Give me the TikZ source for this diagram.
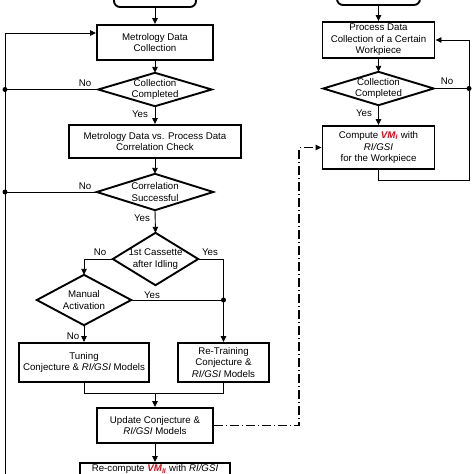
\documentclass[tikz,border=0pt]{standalone}
\usepackage{fontspec}
\setmainfont{Liberation Sans}
\usetikzlibrary{arrows.meta,calc}
\definecolor{vmred}{RGB}{200,16,32}
\newcommand{\VMsym}[1]{\textcolor{vmred}{\textbf{\textit{VM}}\textsubscript{\textbf{\textit{#1}}}}}
\begin{document}
\begin{tikzpicture}[x=1pt,y=-1pt, font=\fontsize{9.7}{11.6}\selectfont,
  box/.style={draw, line width=1.9pt, align=center, inner sep=0pt},
  diam/.style={inner sep=0pt, align=center},
  conn/.style={line width=0.9pt},
  arr/.style={conn, -{Triangle[length=6pt,width=5.5pt]}},
  lbl/.style={inner sep=0pt},
  dot/.style={circle, fill, inner sep=0pt, minimum size=5pt},
  dashdot/.style={line width=1.1pt, dash pattern=on 9pt off 3pt on 1pt off 3pt}]
\useasboundingbox (0,0) rectangle (474,474);
\clip (0,0) rectangle (474,474);

% ---------- left column ----------
\node[box, rounded corners=6pt, minimum width=82pt, minimum height=27pt] (t1) at (155,-6.5) {};
\node[box, minimum width=116pt, minimum height=35pt] (b1) at (155,42.5) {Metrology Data\\Collection};
\node[diam, minimum width=113pt, minimum height=33pt] (d1) at (155,89.5) {Collection\\Completed};
\node[box, minimum width=172pt, minimum height=33pt] (b2) at (155,141.5) {Metrology Data vs. Process Data\\Correlation Check};
\node[diam, minimum width=116pt, minimum height=36pt] (d2) at (155,192) {Correlation\\Successful};
\node[diam, minimum width=85pt, minimum height=52pt] (d3) at (155.5,259) {1st Cassette\\after Idling};
\node[diam, minimum width=94pt, minimum height=50pt] (d4) at (84,300) {Manual\\Activation};
\node[box, minimum width=130pt, minimum height=39pt] (b3) at (84,362.5) {Tuning\\Conjecture \& \textit{RI/GSI} Models};
\node[box, minimum width=91pt, minimum height=39pt] (b4) at (223.5,362.5) {Re-Training\\Conjecture \&\\\textit{RI/GSI} Models};
\node[box, minimum width=116pt, minimum height=35pt] (b5) at (155,425.5) {Update Conjecture \&\\\textit{RI/GSI} Models};
\node[box, anchor=north, minimum width=150pt, text depth=24pt, inner ysep=2pt] (b6) at (155,462) {Re-compute \VMsym{II} with \textit{RI/GSI}};

% ---------- right column ----------
\node[box, rounded corners=6pt, minimum width=83pt, minimum height=27pt] (t2) at (378.5,-8.5) {};
\node[box, minimum width=112pt, minimum height=36pt] (r1) at (378.5,40) {Process Data\\Collection of a Certain\\Workpiece};
\node[diam, minimum width=110pt, minimum height=33pt] (rd) at (378.5,88.5) {Collection\\Completed};
\node[box, minimum width=112pt, minimum height=43pt] (r2) at (378.5,147.5) {Compute \VMsym{I} with\\\textit{RI/GSI}\\for the Workpiece};

% diamonds outlines
\foreach \d in {d1,d2,d3,d4,rd}
  \draw[line width=1.9pt] (\d.north) -- (\d.east) -- (\d.south) -- (\d.west) -- cycle;

% coordinates
\coordinate (L1) at (5,89.5);
\coordinate (L2) at (5,192);
\coordinate (Ltop) at (5,33);
\coordinate (Lbot) at (5,490);
\coordinate (M) at (155,393);
\coordinate (C1) at (299,425.5);
\coordinate (C2) at (299,147.5);
\coordinate (JR) at (469,88.5);
\coordinate (RB) at (469,180);

% left connectors
\draw[arr] (t1.south) -- (b1.north);
\draw[arr] (b1.south) -- (d1.north);
\draw[conn] (d1.west) -- (L1);
\node[dot] (dotL1) at (L1) {};
\draw[arr] (Lbot) -- (Ltop) -- (b1.west |- Ltop);
\draw[arr] (d1.south) -- (b2.north);
\draw[arr] (b2.south) -- (d2.north);
\draw[conn] (d2.west) -- (L2);
\node[dot] (dotL2) at (L2) {};
\draw[arr] (d2.south) -- (d3.north);
\draw[arr] (d3.west) -| (d4.north);
\draw[arr] (d3.east) -| (b4.north);
\draw[conn] (d4.east) -- (d4.east -| b4.north);
\node[dot] (dotJ) at (d4.east -| b4.north) {};
\draw[arr] (d4.south) -- (b3.north);
\draw[conn] (b3.south) |- (b4.south |- M) -- (b4.south);
\draw[arr] (M) -- (b5.north);
\draw[arr] (b5.south) -- (b6.north);
\draw[dashdot, -{Triangle[length=6pt,width=5.5pt]}] (b5.east) -- (C1) -- (C2) -- (r2.west);

% right connectors
\draw[arr] (t2.south) -- (r1.north);
\draw[arr] (r1.south) -- (rd.north);
\draw[conn] (rd.east) -- (JR);
\node[dot] (dotJR) at (JR) {};
\draw[arr] (rd.south) -- (r2.north);
\draw[arr] (r2.south) |- (RB) |- (r1.east);

% labels
\node[lbl] (n1) at (85,83) {No};
\node[lbl] (y1) at (140,114) {Yes};
\node[lbl] (n2) at (85,186) {No};
\node[lbl] (y2) at (142,218) {Yes};
\node[lbl] (n3) at (100,252) {No};
\node[lbl] (y3) at (210,252) {Yes};
\node[lbl] (y4) at (152,295) {Yes};
\node[lbl] (n4) at (73,336) {No};
\node[lbl] (n5) at (447,81) {No};
\node[lbl] (y5) at (364,113) {Yes};
\end{tikzpicture}
\end{document}
